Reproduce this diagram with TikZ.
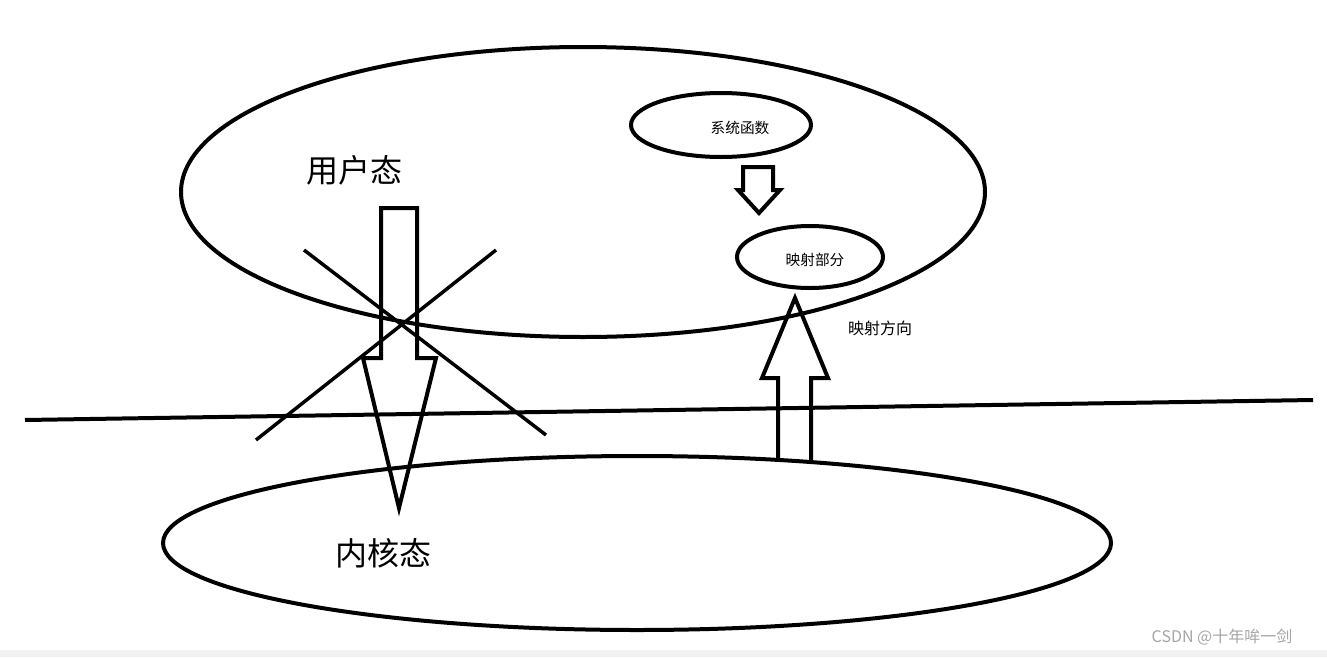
\documentclass[tikz,border=0pt]{standalone}
\usepackage{fontspec}
\usetikzlibrary{shapes.geometric}
\setmainfont{Noto Sans CJK SC}
\begin{document}
\begin{tikzpicture}[x=0.75pt,y=-0.75pt,line width=3pt,
  ell/.style n args={2}{draw,ellipse,minimum width=#1*0.75pt,minimum height=#2*0.75pt,inner sep=0pt},
  lbl/.style={inner sep=0pt,font=\fontsize{#1}{#1}\selectfont}]
\useasboundingbox[fill=white] (0,0) rectangle (1327,657);
\fill[gray!10] (0,650) rectangle (1327,657);
\node[ell={804}{290}] (user) at (583,192) {};
\node[ell={948}{174}] (kern) at (637,543) {};
\coordinate (l1) at (25,420); \coordinate (l2) at (1313,400);
\draw (l1) -- (l2);
\node[ell={180}{64}] (sys) at (721,125) {};
\node[lbl=11] (syst) at (740,128) {系统函数};
\node[ell={146}{62}] (map) at (810,257) {};
\node[lbl=11] (mapt) at (815,260) {映射部分};
\draw[line join=miter] (743,167) -- (773,167) -- (773,190) -- (780,190) -- (759,213) -- (738,190) -- (743,190) -- cycle;
\draw[line join=miter] (381,208) -- (417,208) -- (417,358) -- (436,358) -- (399,508) -- (363,358) -- (381,358) -- cycle;
\draw[line join=miter] (778,460) -- (778,378) -- (762,378) -- (795,298) -- (828,378) -- (811,378) -- (811,460);
\draw[line width=2.6pt] (304,250) -- (546,435);
\draw[line width=2.6pt] (496,250) -- (256,440);
\node[lbl=24] (ut) at (354,170) {用户态};
\node[lbl=24] (kt) at (383,553) {内核态};
\node[lbl=12] (dir) at (880,328) {映射方向};
\node[lbl=12,text=gray!70] (wm) at (1222,637) {CSDN @十年哞一剑};
\end{tikzpicture}
\end{document}
